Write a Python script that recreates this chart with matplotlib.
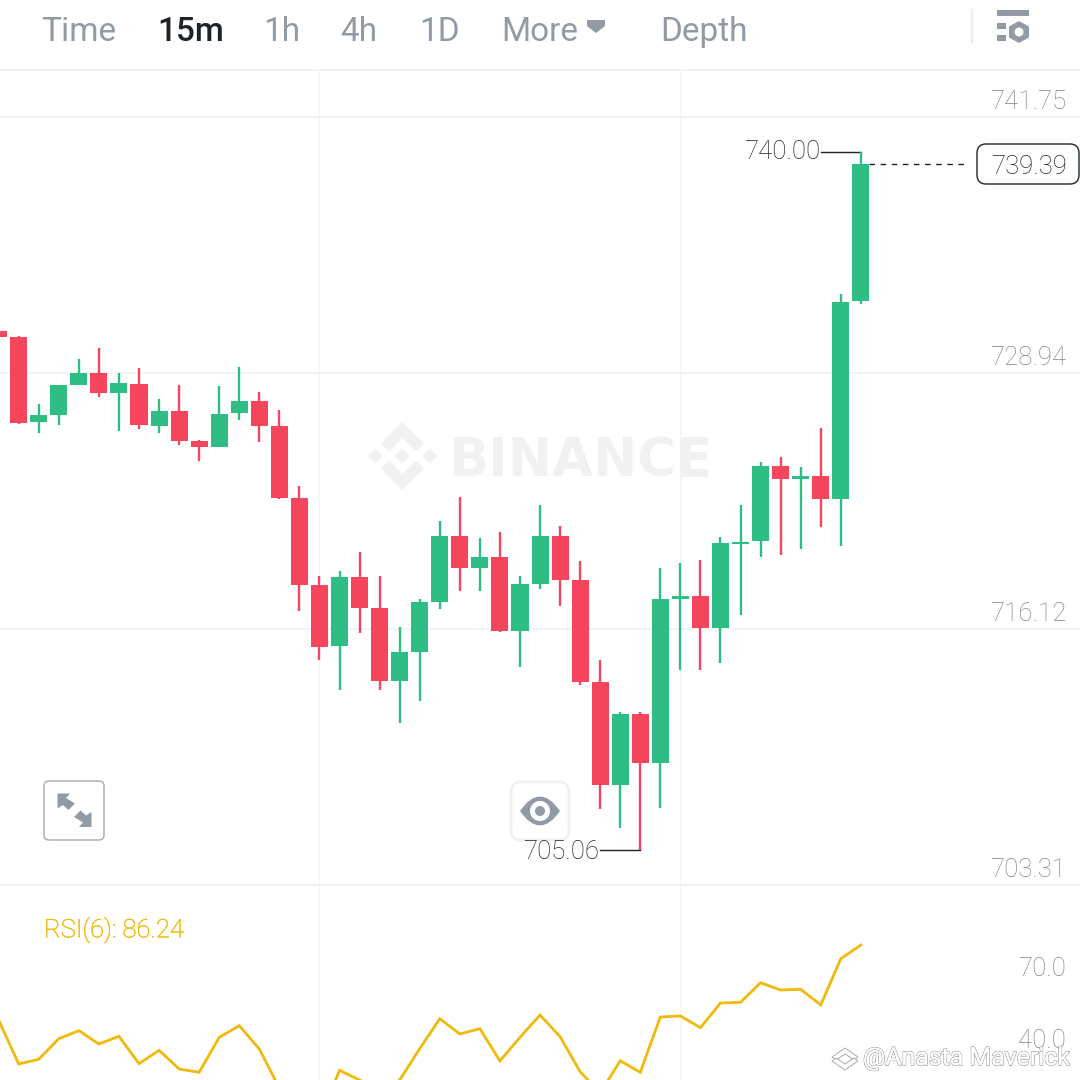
import matplotlib
matplotlib.use('Agg')
import matplotlib.pyplot as plt
import matplotlib.patheffects as pe
from matplotlib.patches import Polygon, FancyBboxPatch, Circle, Rectangle, PathPatch
from matplotlib.path import Path

plt.rcParams['font.family'] = ['Roboto', 'DejaVu Sans']

# candles, oldest first (index -1 is the one cut off at the left edge)
idx = list(range(-1, 43))
opens = [731.05, 730.75, 726.47, 726.84, 728.32, 728.92, 727.94, 728.39, 726.30, 727.05, 725.52,
         725.25, 726.92, 727.54, 726.27, 722.67, 718.33, 715.26, 718.74, 717.16, 713.54, 714.99,
         717.49, 720.79, 719.19, 719.73, 716.02, 718.39, 720.78, 718.56, 713.46, 708.30, 711.87,
         709.40, 717.61, 717.76, 716.19, 720.39, 720.51, 724.28, 723.63, 723.78, 722.62, 732.54]
closes = [730.72, 726.45, 726.84, 728.32, 728.92, 727.94, 728.42, 726.32, 727.04, 725.53, 725.25,
          726.90, 727.54, 726.27, 722.67, 718.34, 715.24, 718.74, 717.16, 713.54, 714.97, 717.48,
          720.79, 719.18, 719.73, 716.02, 718.39, 720.78, 718.58, 713.46, 708.30, 711.89, 709.40,
          717.61, 717.78, 716.19, 720.41, 720.49, 724.28, 723.62, 723.78, 722.62, 732.51, 739.39]
highs = [731.05, 730.79, 727.39, 728.32, 729.64, 730.19, 728.95, 729.20, 727.62, 728.35, 725.57,
         728.27, 729.25, 727.97, 727.07, 723.28, 718.78, 719.01, 719.98, 718.78, 716.24, 717.61,
         721.55, 722.72, 720.68, 720.98, 718.78, 722.33, 721.28, 719.51, 714.56, 711.96, 711.96,
         719.16, 719.43, 719.58, 720.74, 722.35, 724.47, 724.72, 724.22, 726.20, 732.91, 740.00]
lows = [730.72, 726.40, 725.95, 726.32, 728.32, 727.74, 726.02, 726.13, 725.92, 725.33, 724.52,
        725.22, 726.59, 725.50, 722.65, 717.01, 714.59, 713.06, 715.90, 713.07, 711.44, 712.52,
        717.14, 718.01, 718.04, 715.97, 714.21, 718.14, 717.29, 713.34, 707.12, 706.18, 705.06,
        707.18, 714.07, 714.07, 714.41, 716.83, 719.71, 719.83, 720.11, 721.23, 720.28, 732.38]
rsi = [55.0, 36.67, 38.63, 47.21, 50.54, 45.0, 48.21, 36.79, 42.38, 34.58, 33.21,
       47.79, 52.63, 42.92, 26.67, 17.5, 13.33, 34.04, 30.0, 25.0, 30.0, 43.04,
       55.54, 49.17, 51.38, 37.92, 47.79, 57.08, 48.04, 33.46, 24.58, 38.04, 33.21,
       56.25, 56.67, 51.79, 62.08, 62.38, 70.54, 67.5, 67.79, 61.25, 80.54, 86.24]

price_ticks = [741.75, 728.94, 716.12, 703.31]
price_labels = ['741.75', '728.94', '716.12', '703.31']
rsi_ticks = [70.0, 40.0]
rsi_labels = ['70.0', '40.0']
menu_labels = ['Time', '15m', '1h', '4h', '1D', 'More', 'Depth']
menu_x = [41, 157, 263, 340, 419, 501, 660]

GREEN = '#2ebd85'
RED = '#f6465d'
GREY = '#929aa5'
LABEL = '#7f8793'
DARK = '#1e2329'
GRID = '#f1f2f3'
YELLOW = '#f0b90b'

W = 1080.0


def box(top, bottom):
    # figure fraction rectangle from pixel rows
    return [0, 1 - bottom / W, 1, (bottom - top) / W]


fig = plt.figure(figsize=(10.8, 10.8), dpi=100, facecolor='white')

# background layer: Binance watermark
bg = fig.add_axes([0, 0, 1, 1], zorder=0)
bg.set_xlim(0, W)
bg.set_ylim(W, 0)
bg.axis('off')
LOGO = '#eff1f2'
cx, cy = 402.5, 456
for dx in (-27, 0, 27):
    bg.add_patch(Polygon([(cx + dx - 7.5, cy), (cx + dx, cy - 7.5), (cx + dx + 7.5, cy), (cx + dx, cy + 7.5)],
                         color=LOGO, lw=0))
for s in (-1, 1):
    bg.add_patch(Polygon([(cx, cy + s * 34), (cx + 21.5, cy + s * 12.5), (cx + 13.5, cy + s * 4.5),
                          (cx, cy + s * 18), (cx - 13.5, cy + s * 4.5), (cx - 21.5, cy + s * 12.5)],
                         color=LOGO, lw=0))
bg.text(580, 461, 'BINANCE', fontsize=38, fontweight='bold', family='DejaVu Sans', color=LOGO,
        ha='center', va='center')

# price panel
ax = fig.add_axes(box(70, 885), zorder=4)
ax.patch.set_alpha(0)
ax.set_xlim(-0.933, 52.93)
ax.set_ylim(703.31, 744.10)
ax.set_xticks([15, 33])
ax.set_yticks(price_ticks)
ax.tick_params(length=0, labelbottom=False, labelleft=False)
ax.grid(True, axis='y', color=GRID, lw=1.2)
ax.grid(True, axis='x', color=GRID, lw=0.9)
ax.set_axisbelow(True)
for side in ('left', 'right'):
    ax.spines[side].set_visible(False)
for side in ('top', 'bottom'):
    ax.spines[side].set_color(GRID)
    ax.spines[side].set_linewidth(1.4)

colors = [GREEN if c >= o else RED for o, c in zip(opens, closes)]
ax.vlines(idx, lows, highs, colors=colors, lw=1.7, zorder=3)
ax.bar(idx, [c - o for o, c in zip(opens, closes)], bottom=opens, width=0.85, color=colors, lw=0, zorder=4)

for v, lab in zip(price_ticks, price_labels):
    ax.annotate(lab, xy=(1, v), xycoords=ax.get_yaxis_transform(), xytext=(-10, 10.5), textcoords='offset points',
                ha='right', va='center', fontsize=18.5, fontweight='light', color=LABEL, annotation_clip=False)

# high, low and last price markers
ax.plot([42, 40], [max(highs), max(highs)], color=DARK, lw=1, zorder=2)
ax.text(39.95, max(highs), '740.00', ha='right', va='center', fontsize=18.5, fontweight='light', color=DARK, zorder=6)
ax.plot([31, 29], [min(lows), min(lows)], color=DARK, lw=1, zorder=2)
ax.annotate('705.06', xy=(28.95, min(lows)), xytext=(0, -1.2), textcoords='offset points', ha='right', va='center',
            fontsize=18.5, fontweight='light', color=DARK, zorder=6)
ax.plot([42.4, 47.2], [closes[-1], closes[-1]], color=DARK, lw=1, ls=(0, (4, 4)), zorder=2)

# RSI panel
ax2 = fig.add_axes(box(885, 1080), zorder=1)
ax2.patch.set_alpha(0)
ax2.set_xlim(-0.933, 52.93)
ax2.set_ylim(30, 111.25)
ax2.set_xticks([15, 33])
ax2.set_yticks([])
ax2.tick_params(length=0, labelbottom=False)
ax2.grid(True, axis='x', color=GRID, lw=0.9)
ax2.set_axisbelow(True)
for s in ax2.spines.values():
    s.set_visible(False)
ax2.plot(idx, rsi, color=YELLOW, lw=2, solid_joinstyle='miter', zorder=3)
for v, lab in zip(rsi_ticks, rsi_labels):
    ax2.annotate(lab, xy=(1, v), xycoords=ax2.get_yaxis_transform(), xytext=(-10, 11), textcoords='offset points',
                 ha='right', va='center', fontsize=18.5, fontweight='light', color=LABEL, annotation_clip=False)

# top layer: menu, buttons, last price tag
ui = fig.add_axes([0, 0, 1, 1], zorder=3)
ui.patch.set_alpha(0)
ui.set_xlim(0, W)
ui.set_ylim(W, 0)
ui.axis('off')

for lab, x in zip(menu_labels, menu_x):
    on = lab == '15m'
    ui.text(x, 32, lab, fontsize=24, ha='left', va='center', color=DARK if on else GREY,
            fontweight='medium' if on else 'normal')
ui.add_patch(Polygon([(587, 20), (605, 20), (605, 26), (596, 33), (587, 26)], color=GREY, lw=0))

# settings icon
ui.plot([972, 972], [10, 43], color='#eceded', lw=1.5)
ui.add_patch(Rectangle((997, 10), 32, 6, color=GREY, lw=0))
ui.add_patch(Rectangle((997, 23), 9, 6, color=GREY, lw=0))
ui.add_patch(Rectangle((997, 35), 9, 6, color=GREY, lw=0))
ui.add_patch(Polygon([(1019, 21), (1029, 26.5), (1029, 37.5), (1019, 43), (1009, 37.5), (1009, 26.5)], color=GREY, lw=0))
ui.add_patch(Circle((1019, 32), 4.5, color='white', lw=0))

# last price tag
ui.add_patch(FancyBboxPatch((985, 152), 86, 24, boxstyle='round,pad=8,rounding_size=9', fc='white', ec=DARK, lw=1))
ui.text(1028.5, 167, '739.39', fontsize=18.5, fontweight='light', color=DARK, ha='center', va='center')

# RSI caption
ui.text(44, 930, 'RSI(6): 86.24', fontsize=18.4, color=YELLOW, fontweight='light', ha='left', va='center',
        path_effects=[pe.withStroke(linewidth=0.3, foreground=YELLOW)])

# expand button
ui.add_patch(FancyBboxPatch((49, 786), 50, 49, boxstyle='round,pad=5,rounding_size=5', fc='white', ec='#a4a9b0', lw=1))
tl = [(57.5, 793.5), (70, 793.5), (66, 798), (75, 803.5), (68.5, 810), (63, 805), (57.5, 808.5)]
ui.add_patch(Polygon(tl, color=GREY, lw=0))
ui.add_patch(Polygon([(149 - x, 1620.5 - y) for x, y in tl], color=GREY, lw=0))

# eye button
ui.add_patch(FancyBboxPatch((519, 790), 42, 42, boxstyle='round,pad=8,rounding_size=10', fc='white', ec='#eef0f1', lw=2, zorder=1))
eye = Path([(520, 811), (540, 782), (560, 811), (540, 840), (520, 811)],
           [Path.MOVETO, Path.CURVE3, Path.CURVE3, Path.CURVE3, Path.CURVE3])
ui.add_patch(PathPatch(eye, fc=GREY, lw=0, zorder=2))
ui.add_patch(Circle((540, 811), 10, color='white', lw=0, zorder=3))
ui.add_patch(Circle((540, 811), 5, color=GREY, lw=0, zorder=4))

# repost watermark, bottom right
wm = ui.text(863, 1058, '@Anasta Maverick', fontsize=17.9, color='white', ha='left', va='center', zorder=6)
wm.set_path_effects([pe.withStroke(linewidth=1, foreground='#9a9a9a'), pe.Normal()])
wx, wy = 845, 1059
for s in (-1, 1):
    ui.add_patch(Polygon([(wx, wy + s * 11), (wx + 13, wy + s * 2), (wx + 9, wy - s * 1), (wx, wy + s * 5),
                          (wx - 9, wy - s * 1), (wx - 13, wy + s * 2)], fc='white', ec='#aaaaaa', lw=0.7, zorder=6))

fig.savefig('out.png', dpi=100)
